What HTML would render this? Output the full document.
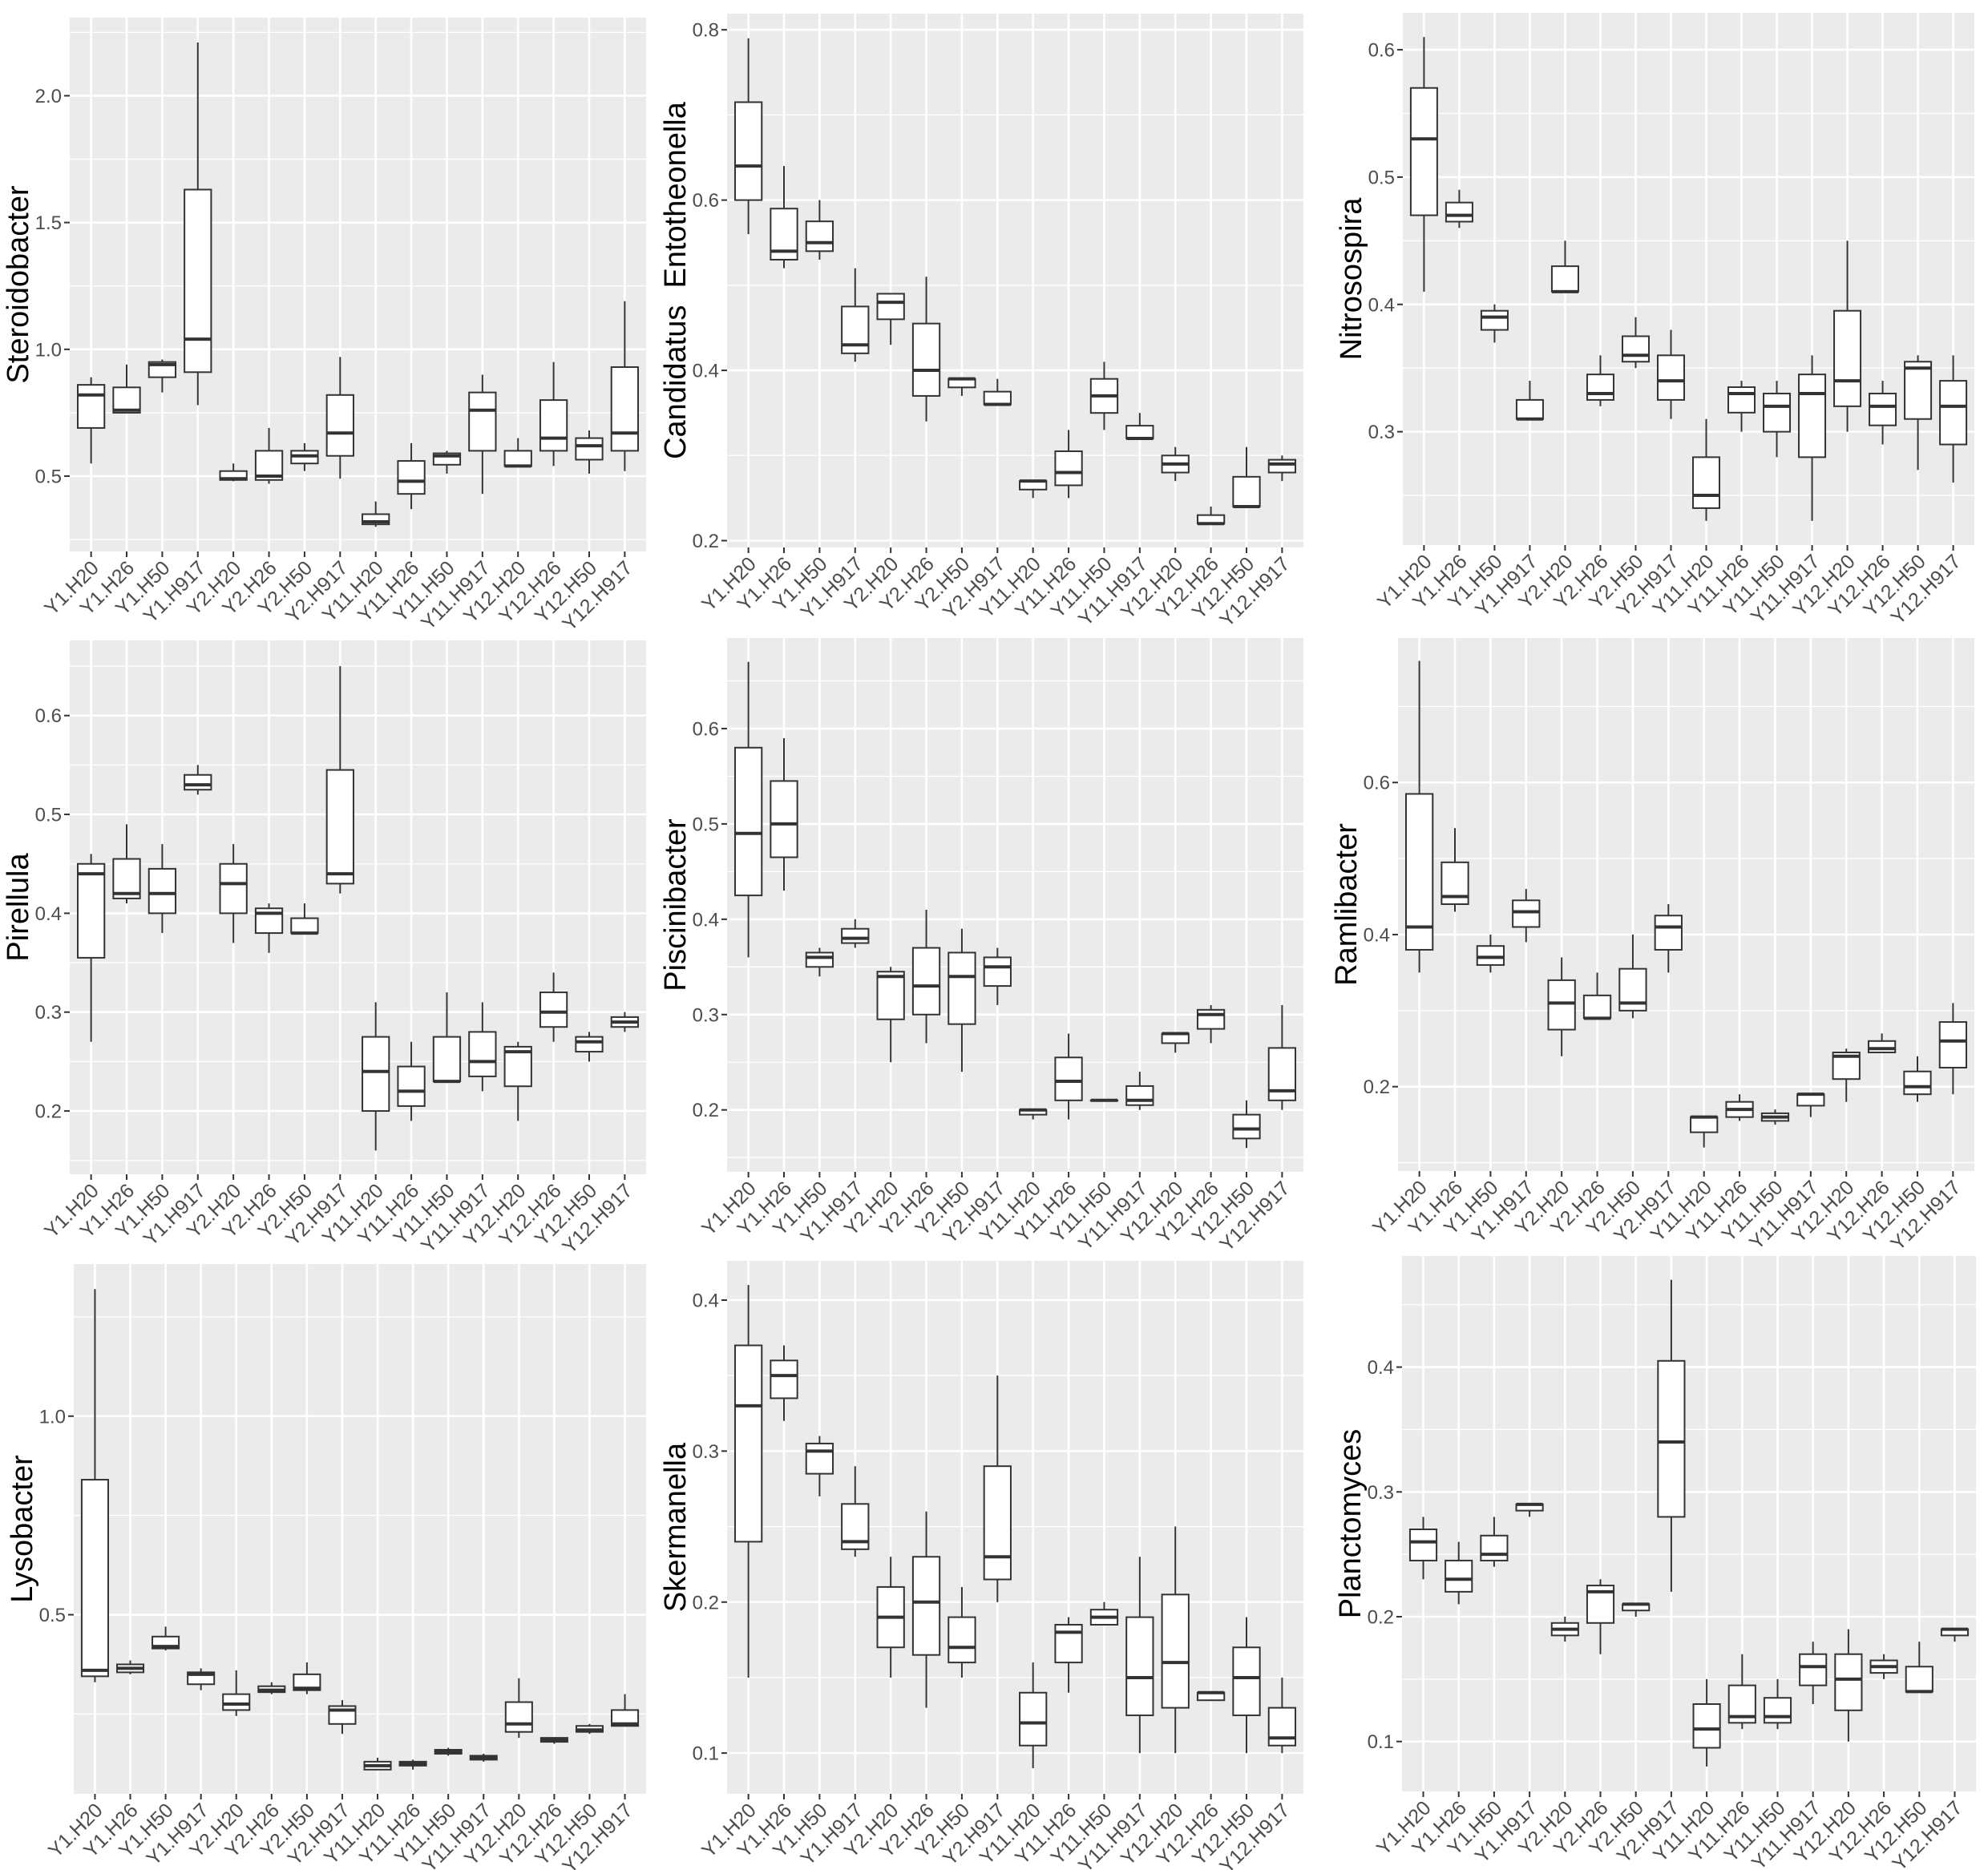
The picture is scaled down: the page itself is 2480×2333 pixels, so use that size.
<!DOCTYPE html>
<html><head><meta charset="utf-8">
<style>
html,body{margin:0;padding:0;background:#fff;}
svg{display:block;}
text{font-family:"Liberation Sans",Arial,sans-serif;}
</style></head>
<body>
<svg id="s" xmlns="http://www.w3.org/2000/svg" width="2480" height="2333" viewBox="0 0 2480 2333"></svg>
<script>
var cats=["Y1.H20","Y1.H26","Y1.H50","Y1.H917","Y2.H20","Y2.H26","Y2.H50","Y2.H917","Y11.H20","Y11.H26","Y11.H50","Y11.H917","Y12.H20","Y12.H26","Y12.H50","Y12.H917"];
var P=[
{t:"Steroidobacter",L:87,R:806,T:22,B:688,y0:0.203,y1:2.308,maj:[0.5,1.0,1.5,2.0],min:[0.25,0.75,1.25,1.75,2.25],
d:[[0.55,0.69,0.82,0.86,0.89],[0.75,0.75,0.76,0.85,0.94],[0.83,0.89,0.94,0.95,0.96],[0.78,0.91,1.04,1.63,2.21],[0.48,0.485,0.49,0.52,0.55],[0.47,0.485,0.50,0.60,0.69],[0.52,0.55,0.58,0.60,0.63],[0.49,0.58,0.67,0.82,0.97],[0.30,0.31,0.32,0.35,0.40],[0.37,0.43,0.48,0.56,0.63],[0.51,0.545,0.58,0.59,0.60],[0.43,0.60,0.76,0.83,0.90],[0.54,0.54,0.54,0.60,0.65],[0.54,0.60,0.65,0.80,0.95],[0.51,0.565,0.62,0.65,0.68],[0.52,0.60,0.67,0.93,1.19]]},
{t:"Candidatus  Entotheonella",L:907,R:1626,T:17,B:683,y0:0.192,y1:0.819,maj:[0.2,0.4,0.6,0.8],min:[0.3,0.5,0.7],
d:[[0.56,0.60,0.64,0.715,0.79],[0.52,0.53,0.54,0.59,0.64],[0.53,0.54,0.55,0.575,0.60],[0.41,0.42,0.43,0.475,0.52],[0.43,0.46,0.48,0.49,0.49],[0.34,0.37,0.40,0.455,0.51],[0.37,0.38,0.39,0.39,0.39],[0.36,0.36,0.36,0.375,0.39],[0.25,0.26,0.27,0.27,0.27],[0.25,0.265,0.28,0.305,0.33],[0.33,0.35,0.37,0.39,0.41],[0.32,0.32,0.32,0.335,0.35],[0.27,0.28,0.29,0.30,0.31],[0.22,0.22,0.22,0.23,0.24],[0.24,0.24,0.24,0.275,0.31],[0.27,0.28,0.29,0.295,0.30]]},
{t:"Nitrosospira",L:1750,R:2463,T:16,B:680,y0:0.211,y1:0.629,maj:[0.3,0.4,0.5,0.6],min:[0.25,0.35,0.45,0.55],
d:[[0.41,0.47,0.53,0.57,0.61],[0.46,0.465,0.47,0.48,0.49],[0.37,0.38,0.39,0.395,0.40],[0.31,0.31,0.31,0.325,0.34],[0.41,0.41,0.41,0.43,0.45],[0.32,0.325,0.33,0.345,0.36],[0.35,0.355,0.36,0.375,0.39],[0.31,0.325,0.34,0.36,0.38],[0.23,0.24,0.25,0.28,0.31],[0.30,0.315,0.33,0.335,0.34],[0.28,0.30,0.32,0.33,0.34],[0.23,0.28,0.33,0.345,0.36],[0.30,0.32,0.34,0.395,0.45],[0.29,0.305,0.32,0.33,0.34],[0.27,0.31,0.35,0.355,0.36],[0.26,0.29,0.32,0.34,0.36]]},
{t:"Pirellula",L:87,R:806,T:799,B:1465,y0:0.136,y1:0.676,maj:[0.2,0.3,0.4,0.5,0.6],min:[0.15,0.25,0.35,0.45,0.55,0.65],
d:[[0.27,0.355,0.44,0.45,0.46],[0.41,0.415,0.42,0.455,0.49],[0.38,0.40,0.42,0.445,0.47],[0.52,0.525,0.53,0.54,0.55],[0.37,0.40,0.43,0.45,0.47],[0.36,0.38,0.40,0.405,0.41],[0.38,0.38,0.38,0.395,0.41],[0.42,0.43,0.44,0.545,0.65],[0.16,0.20,0.24,0.275,0.31],[0.19,0.205,0.22,0.245,0.27],[0.23,0.23,0.23,0.275,0.32],[0.22,0.235,0.25,0.28,0.31],[0.19,0.225,0.26,0.265,0.27],[0.27,0.285,0.30,0.32,0.34],[0.25,0.26,0.27,0.275,0.28],[0.28,0.285,0.29,0.295,0.30]]},
{t:"Piscinibacter",L:907,R:1626,T:796,B:1462,y0:0.135,y1:0.695,maj:[0.2,0.3,0.4,0.5,0.6],min:[0.15,0.25,0.35,0.45,0.55,0.65],
d:[[0.36,0.425,0.49,0.58,0.67],[0.43,0.465,0.50,0.545,0.59],[0.34,0.35,0.36,0.365,0.37],[0.37,0.375,0.38,0.39,0.40],[0.25,0.295,0.34,0.345,0.35],[0.27,0.30,0.33,0.37,0.41],[0.24,0.29,0.34,0.365,0.39],[0.31,0.33,0.35,0.36,0.37],[0.19,0.195,0.20,0.20,0.20],[0.19,0.21,0.23,0.255,0.28],[0.21,0.21,0.21,0.21,0.21],[0.20,0.205,0.21,0.225,0.24],[0.26,0.27,0.28,0.28,0.28],[0.27,0.285,0.30,0.305,0.31],[0.16,0.17,0.18,0.195,0.21],[0.20,0.21,0.22,0.265,0.31]]},
{t:"Ramlibacter",L:1744,R:2463,T:796,B:1461,y0:0.089,y1:0.79,maj:[0.2,0.4,0.6],min:[0.1,0.3,0.5,0.7],
d:[[0.35,0.38,0.41,0.585,0.76],[0.43,0.44,0.45,0.495,0.54],[0.35,0.36,0.37,0.385,0.40],[0.39,0.41,0.43,0.445,0.46],[0.24,0.275,0.31,0.34,0.37],[0.29,0.29,0.29,0.32,0.35],[0.29,0.30,0.31,0.355,0.40],[0.35,0.38,0.41,0.425,0.44],[0.12,0.14,0.16,0.16,0.16],[0.155,0.16,0.17,0.18,0.19],[0.15,0.155,0.16,0.165,0.17],[0.16,0.175,0.19,0.19,0.19],[0.18,0.21,0.24,0.245,0.25],[0.245,0.245,0.25,0.26,0.27],[0.18,0.19,0.20,0.22,0.24],[0.19,0.225,0.26,0.285,0.31]]},
{t:"Lysobacter",L:92,R:806,T:1577,B:2238,y0:0.049,y1:1.383,maj:[0.5,1.0],min:[0.25,0.75,1.25],
d:[[0.33,0.345,0.36,0.84,1.32],[0.35,0.355,0.365,0.375,0.385],[0.41,0.415,0.42,0.445,0.47],[0.31,0.325,0.35,0.355,0.365],[0.245,0.26,0.275,0.30,0.36],[0.30,0.305,0.31,0.32,0.33],[0.30,0.31,0.315,0.35,0.38],[0.20,0.225,0.26,0.27,0.285],[0.11,0.11,0.12,0.13,0.14],[0.11,0.12,0.125,0.13,0.135],[0.145,0.15,0.155,0.16,0.165],[0.13,0.135,0.14,0.145,0.15],[0.19,0.205,0.225,0.28,0.34],[0.175,0.18,0.185,0.19,0.19],[0.20,0.205,0.21,0.22,0.225],[0.22,0.22,0.225,0.26,0.30]]},
{t:"Skermanella",L:907,R:1626,T:1573,B:2238,y0:0.073,y1:0.426,maj:[0.1,0.2,0.3,0.4],min:[0.15,0.25,0.35],
d:[[0.15,0.24,0.33,0.37,0.41],[0.32,0.335,0.35,0.36,0.37],[0.27,0.285,0.30,0.305,0.31],[0.23,0.235,0.24,0.265,0.29],[0.15,0.17,0.19,0.21,0.23],[0.13,0.165,0.20,0.23,0.26],[0.15,0.16,0.17,0.19,0.21],[0.20,0.215,0.23,0.29,0.35],[0.09,0.105,0.12,0.14,0.16],[0.14,0.16,0.18,0.185,0.19],[0.185,0.185,0.19,0.195,0.20],[0.10,0.125,0.15,0.19,0.23],[0.10,0.13,0.16,0.205,0.25],[0.135,0.135,0.14,0.14,0.14],[0.10,0.125,0.15,0.17,0.19],[0.10,0.105,0.11,0.13,0.15]]},
{t:"Planctomyces",L:1749,R:2465,T:1567,B:2235,y0:0.060,y1:0.489,maj:[0.1,0.2,0.3,0.4],min:[0.15,0.25,0.35,0.45],
d:[[0.23,0.245,0.26,0.27,0.28],[0.21,0.22,0.23,0.245,0.26],[0.24,0.245,0.25,0.265,0.28],[0.28,0.285,0.29,0.29,0.29],[0.18,0.185,0.19,0.195,0.20],[0.17,0.195,0.22,0.225,0.23],[0.20,0.205,0.21,0.21,0.21],[0.22,0.28,0.34,0.405,0.47],[0.08,0.095,0.11,0.13,0.15],[0.11,0.115,0.12,0.145,0.17],[0.11,0.115,0.12,0.135,0.15],[0.13,0.145,0.16,0.17,0.18],[0.10,0.125,0.15,0.17,0.19],[0.15,0.155,0.16,0.165,0.17],[0.14,0.14,0.14,0.16,0.18],[0.18,0.185,0.19,0.19,0.19]]}
];
var h=[];
P.forEach(function(p){
  var W=p.R-p.L, sp=W/16.2;
  function Y(v){return p.B-(v-p.y0)/(p.y1-p.y0)*(p.B-p.T);}
  function X(i){return p.L+sp*(0.6+i);}
  h.push('<rect x="'+p.L+'" y="'+p.T+'" width="'+W+'" height="'+(p.B-p.T)+'" fill="#EBEBEB"/>');
  p.min.forEach(function(v){var y=Y(v);if(y>p.T&&y<p.B)h.push('<line x1="'+p.L+'" x2="'+p.R+'" y1="'+y+'" y2="'+y+'" stroke="#fff" stroke-width="1.3"/>');});
  p.maj.forEach(function(v){var y=Y(v);h.push('<line x1="'+p.L+'" x2="'+p.R+'" y1="'+y+'" y2="'+y+'" stroke="#fff" stroke-width="2.6"/>');
    h.push('<line x1="'+(p.L-7)+'" x2="'+p.L+'" y1="'+y+'" y2="'+y+'" stroke="#333" stroke-width="2"/>');
    h.push('<text x="'+(p.L-10)+'" y="'+(y+8.5)+'" font-size="24" fill="#4D4D4D" text-anchor="end">'+v.toFixed(1)+'</text>');});
  for(var i=0;i<16;i++){var x=X(i);
    h.push('<line x1="'+x+'" x2="'+x+'" y1="'+p.T+'" y2="'+p.B+'" stroke="#fff" stroke-width="2.6"/>');
    h.push('<line x1="'+x+'" x2="'+x+'" y1="'+p.B+'" y2="'+(p.B+7)+'" stroke="#333" stroke-width="2"/>');
    h.push('<text transform="translate('+(x+11)+','+(p.B+22)+') rotate(-45)" font-size="25" fill="#4D4D4D" text-anchor="end">'+cats[i]+'</text>');
    var d=p.d[i], bw=sp*0.75, bx=x-bw/2;
    h.push('<line x1="'+x+'" x2="'+x+'" y1="'+Y(d[4])+'" y2="'+Y(d[3])+'" stroke="#333" stroke-width="2"/>');
    h.push('<line x1="'+x+'" x2="'+x+'" y1="'+Y(d[1])+'" y2="'+Y(d[0])+'" stroke="#333" stroke-width="2"/>');
    h.push('<rect x="'+bx+'" y="'+Y(d[3])+'" width="'+bw+'" height="'+Math.max(0.5,Y(d[1])-Y(d[3]))+'" fill="#fff" stroke="#333" stroke-width="2"/>');
    h.push('<line x1="'+bx+'" x2="'+(bx+bw)+'" y1="'+Y(d[2])+'" y2="'+Y(d[2])+'" stroke="#333" stroke-width="4"/>');
  }
  var cy=(p.T+p.B)/2, tx=p.L-52;
  h.push('<text transform="translate('+tx+','+cy+') rotate(-90)" font-size="38" fill="#000" text-anchor="middle" xml:space="preserve">'+p.t+'</text>');
});
document.getElementById('s').innerHTML=h.join('');
</script>
</body></html>
